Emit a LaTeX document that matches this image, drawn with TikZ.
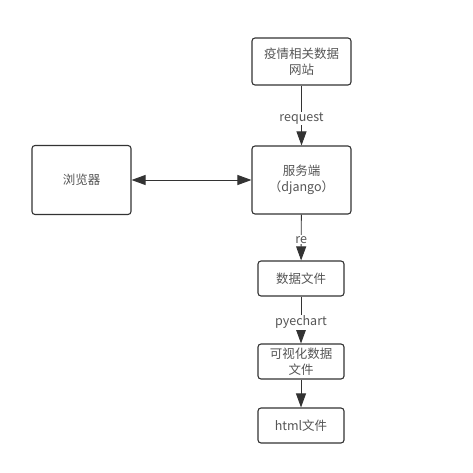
\documentclass[tikz,border=0pt]{standalone}
\usepackage{fontspec}
\setmainfont{Noto Sans CJK SC}
\usetikzlibrary{arrows.meta}
\definecolor{linec}{HTML}{333333}
\definecolor{textc}{HTML}{555555}
\tikzset{
  box/.style={draw=linec, line width=1.1pt, rounded corners=3pt, fill=white,
    text=textc, align=center, font=\fontsize{12.5}{16}\selectfont, inner sep=0pt},
  conn/.style={draw=linec, line width=0.9pt, -{Triangle[length=14pt,width=10pt]}},
  lbl/.style={fill=white, text=textc, font=\fontsize{12.5}{15}\selectfont, inner sep=1pt}
}
\begin{document}
\begin{tikzpicture}[x=1pt,y=-1pt]
\useasboundingbox (0,0) rectangle (473,473);
\node[box, minimum width=99pt, minimum height=47pt] (site) at (301.5,61.5) {疫情相关数据\\网站};
\node[box, minimum width=99pt, minimum height=68pt] (srv) at (301.5,180) {服务端\\（django）};
\node[box, minimum width=99pt, minimum height=69pt] (br) at (81.5,180) {浏览器};
\node[box, minimum width=86pt, minimum height=35pt] (data) at (301,278.5) {数据文件};
\node[box, minimum width=86pt, minimum height=35pt] (vis) at (301,361.5) {可视化数据\\文件};
\node[box, minimum width=86pt, minimum height=35pt] (html) at (301,425.5) {html文件};
\draw[conn] (site) -- node[lbl, pos=0.55] (l1) {request} (srv);
\draw[draw=linec, line width=0.9pt, {Triangle[length=14pt,width=10pt]}-{Triangle[length=14pt,width=10pt]}] (br) -- (srv);
\draw[conn] (srv) -- node[lbl, pos=0.55] (l2) {re} (data);
\draw[conn] (data) -- node[lbl, pos=0.55] (l3) {pyechart} (vis);
\draw[conn] (vis) -- (html);
\end{tikzpicture}
\end{document}
